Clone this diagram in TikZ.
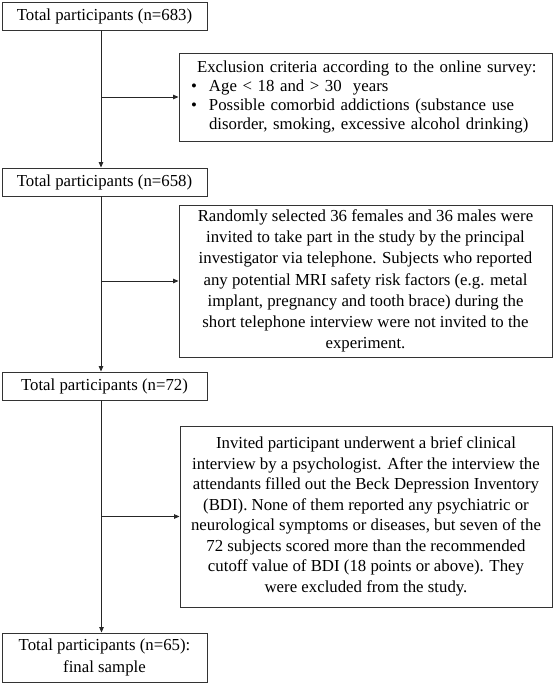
\documentclass[tikz,border=0pt]{standalone}
\usepackage{fontspec}
\setmainfont{Liberation Serif}
\usetikzlibrary{arrows.meta}
\begin{document}
\begin{tikzpicture}[x=1pt,y=-1pt,
  box/.style={draw=black!80, line width=0.9pt, rectangle, inner sep=0pt,
    font=\fontsize{16.8}{20.5}\selectfont, align=center},
  mainbox/.style={box, minimum width=205pt, minimum height=28pt},
  sidebox/.style={box, minimum width=373pt},
  conn/.style={draw=black!85, line width=0.9pt, -{Triangle[length=5.5pt,width=4.5pt]}}]
\useasboundingbox (0,0) rectangle (553,685);
\node[mainbox] (b1) at (104.5,16) {Total participants (n=683)};
\node[mainbox] (b2) at (104.5,182) {Total participants (n=658)};
\node[mainbox] (b3) at (104.5,386) {Total participants (n=72)};
\node[mainbox, minimum height=49pt, font=\fontsize{16.8}{22}\selectfont] (b4) at (104.5,657.5) {Total participants (n=65):\\final sample};
\node[sidebox, minimum height=88pt, text width=355pt, align=left, inner xsep=9pt,
  font=\fontsize{16.8}{19.3}\selectfont] (s1) at (365.5,97)
  {\hspace*{9pt}Exclusion criteria according to the online survey:\\
   \hspace*{3pt}\makebox[18pt][l]{\textbullet}Age < 18 and > 30\ \ years\\
   \hspace*{3pt}\makebox[18pt][l]{\textbullet}Possible comorbid addictions (substance use\\
   \hspace*{21pt}disorder, smoking, excessive alcohol drinking)};
\node[sidebox, minimum height=152pt, font=\fontsize{16.8}{21.2}\selectfont] (s2) at (365.5,281)
  {Randomly selected 36 females and 36 males were\\
   invited to take part in the study by the principal\\
   investigator via telephone. Subjects who reported\\
   any potential MRI safety risk factors (e.g. metal\\
   implant, pregnancy and tooth brace) during the\\
   short telephone interview were not invited to the\\
   experiment.};
\node[sidebox, minimum width=372pt, minimum height=181pt] (s3) at (366,516.5)
  {Invited participant underwent a brief clinical\\
   interview by a psychologist. After the interview the\\
   attendants filled out the Beck Depression Inventory\\
   (BDI). None of them reported any psychiatric or\\
   neurological symptoms or diseases, but seven of the\\
   72 subjects scored more than the recommended\\
   cutoff value of BDI (18 points or above). They\\
   were excluded from the study.};
\coordinate (t1) at ([xshift=-3.5pt]b1.south);
\coordinate (t2) at ([xshift=-3.5pt]b2.south);
\coordinate (t3) at ([xshift=-3pt]b3.south);
\draw[conn] (t1) -- (t1 |- b2.north);
\draw[conn] (t2) -- (t2 |- b3.north);
\draw[conn] (t3) -- (t3 |- b4.north);
\draw[conn] (t1 |- s1.west) -- (s1.west);
\draw[conn] (t2 |- s2.west) -- (s2.west);
\draw[conn] (t3 |- s3.west) -- (s3.west);
\end{tikzpicture}
\end{document}
